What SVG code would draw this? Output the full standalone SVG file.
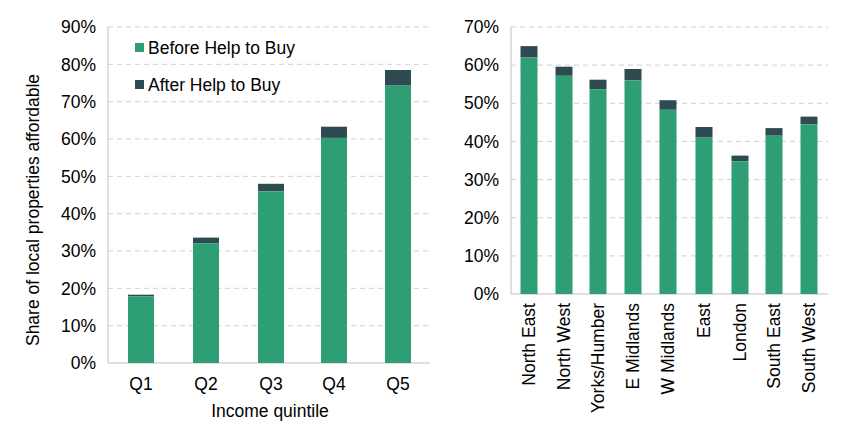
<svg xmlns="http://www.w3.org/2000/svg" width="848" height="431" viewBox="0 0 848 431">
<style>
text{font-family:"Liberation Sans",Arial,sans-serif;font-size:17.5px;fill:#000}
.g{stroke:#d0d0d0;stroke-width:1;stroke-dasharray:5,4}
.ax{stroke:#bfbfbf;stroke-width:1}
.b{fill:#2e9f74}.a{fill:#2f4b52}
.yl{text-anchor:end}
.xl{text-anchor:middle}
</style>
<rect width="848" height="431" fill="#fff"/>
<g id="left-grid">
<line class="g" x1="108" x2="430" y1="27" y2="27"/><line class="g" x1="108" x2="430" y1="64.3" y2="64.3"/><line class="g" x1="108" x2="430" y1="101.7" y2="101.7"/><line class="g" x1="108" x2="430" y1="139" y2="139"/><line class="g" x1="108" x2="430" y1="176.3" y2="176.3"/><line class="g" x1="108" x2="430" y1="213.7" y2="213.7"/><line class="g" x1="108" x2="430" y1="251" y2="251"/><line class="g" x1="108" x2="430" y1="288.3" y2="288.3"/><line class="g" x1="108" x2="430" y1="325.7" y2="325.7"/>
<line class="ax" x1="108" x2="108" y1="27" y2="363"/><line class="ax" x1="108" x2="430" y1="363" y2="363"/>
</g>
<g id="left-yaxis">
<text class="yl" x="96" y="33">90%</text><text class="yl" x="96" y="70.5">80%</text><text class="yl" x="96" y="108">70%</text><text class="yl" x="96" y="145">60%</text><text class="yl" x="96" y="182.5">50%</text><text class="yl" x="96" y="220">40%</text><text class="yl" x="96" y="257">30%</text><text class="yl" x="96" y="294.5">20%</text><text class="yl" x="96" y="332">10%</text><text class="yl" x="96" y="369">0%</text>
<text transform="translate(39,210) rotate(-90)" class="xl">Share of local properties affordable</text>
</g>
<g id="left-bars">
<rect class="a" x="128" y="294.7" width="26" height="1.8"/><rect class="b" x="128" y="296.5" width="26" height="66.5"/>
<rect class="a" x="193" y="237.6" width="26" height="5.9"/><rect class="b" x="193" y="243.5" width="26" height="119.5"/>
<rect class="a" x="258" y="183.8" width="26" height="7.5"/><rect class="b" x="258" y="191.3" width="26" height="171.7"/>
<rect class="a" x="321" y="126.7" width="26" height="11.2"/><rect class="b" x="321" y="137.9" width="26" height="225.1"/>
<rect class="a" x="385" y="70" width="26" height="15.6"/><rect class="b" x="385" y="85.6" width="26" height="277.4"/>
</g>
<g id="left-xaxis">
<text class="xl" x="141" y="390">Q1</text><text class="xl" x="206" y="390">Q2</text><text class="xl" x="271" y="390">Q3</text><text class="xl" x="334" y="390">Q4</text><text class="xl" x="398" y="390">Q5</text>
<text class="xl" x="270" y="417">Income quintile</text>
</g>
<g id="legend">
<rect class="b" x="135" y="43" width="9" height="9"/><text x="148" y="54">Before Help to Buy</text>
<rect class="a" x="135" y="80" width="9" height="9"/><text x="148" y="91">After Help to Buy</text>
</g>
<g id="right-grid">
<line class="g" x1="511" x2="828" y1="27" y2="27"/><line class="g" x1="511" x2="828" y1="65.1" y2="65.1"/><line class="g" x1="511" x2="828" y1="103.3" y2="103.3"/><line class="g" x1="511" x2="828" y1="141.4" y2="141.4"/><line class="g" x1="511" x2="828" y1="179.6" y2="179.6"/><line class="g" x1="511" x2="828" y1="217.7" y2="217.7"/><line class="g" x1="511" x2="828" y1="255.9" y2="255.9"/>
<line class="ax" x1="511" x2="511" y1="27" y2="294"/><line class="ax" x1="511" x2="828" y1="294" y2="294"/>
</g>
<g id="right-yaxis">
<text class="yl" x="499" y="33">70%</text><text class="yl" x="499" y="71">60%</text><text class="yl" x="499" y="109">50%</text><text class="yl" x="499" y="147.5">40%</text><text class="yl" x="499" y="185.5">30%</text><text class="yl" x="499" y="224">20%</text><text class="yl" x="499" y="262">10%</text><text class="yl" x="499" y="300">0%</text>
</g>
<g id="right-bars">
<rect class="a" x="520.5" y="46.1" width="17" height="11.4"/><rect class="b" x="520.5" y="57.5" width="17" height="236.5"/>
<rect class="a" x="555.5" y="66.7" width="17" height="9.1"/><rect class="b" x="555.5" y="75.8" width="17" height="218.2"/>
<rect class="a" x="589.5" y="79.7" width="17" height="9.5"/><rect class="b" x="589.5" y="89.2" width="17" height="204.8"/>
<rect class="a" x="624.5" y="69" width="17" height="11.4"/><rect class="b" x="624.5" y="80.4" width="17" height="213.6"/>
<rect class="a" x="659.5" y="100.2" width="17" height="9.6"/><rect class="b" x="659.5" y="109.8" width="17" height="184.2"/>
<rect class="a" x="695.5" y="127" width="17" height="10.6"/><rect class="b" x="695.5" y="137.6" width="17" height="156.4"/>
<rect class="a" x="731.5" y="155.6" width="17" height="5.7"/><rect class="b" x="731.5" y="161.3" width="17" height="132.7"/>
<rect class="a" x="765.5" y="128.1" width="17" height="7.6"/><rect class="b" x="765.5" y="135.7" width="17" height="158.3"/>
<rect class="a" x="800.5" y="116.6" width="17" height="7.7"/><rect class="b" x="800.5" y="124.3" width="17" height="169.7"/>
</g>
<g id="right-xaxis" text-anchor="end">
<text transform="translate(535,303) rotate(-90)" text-anchor="end">North East</text>
<text transform="translate(570,303) rotate(-90)" text-anchor="end">North West</text>
<text transform="translate(604,303) rotate(-90)" text-anchor="end">Yorks/Humber</text>
<text transform="translate(639,303) rotate(-90)" text-anchor="end">E Midlands</text>
<text transform="translate(674,303) rotate(-90)" text-anchor="end">W Midlands</text>
<text transform="translate(710,303) rotate(-90)" text-anchor="end">East</text>
<text transform="translate(746,303) rotate(-90)" text-anchor="end">London</text>
<text transform="translate(780,303) rotate(-90)" text-anchor="end">South East</text>
<text transform="translate(815,303) rotate(-90)" text-anchor="end">South West</text>
</g>
</svg>
